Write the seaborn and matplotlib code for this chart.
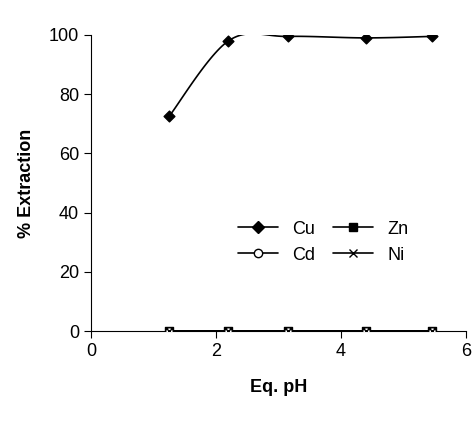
import numpy as np
import matplotlib
matplotlib.use("Agg")
import matplotlib.pyplot as plt
import seaborn as sns
import pandas as pd
from matplotlib.lines import Line2D

sns.set_style("ticks")
plt.rcParams['font.family'] = ['Liberation Sans', 'DejaVu Sans']
plt.rcParams['text.color'] = 'black'
plt.rcParams['axes.labelcolor'] = 'black'
plt.rcParams['xtick.color'] = 'black'
plt.rcParams['ytick.color'] = 'black'

ph = [1.25, 2.2, 3.15, 4.4, 5.45]
cu = [72.5, 98.0, 99.5, 99.0, 99.5]
zn = [0, 0, 0, 0, 0]
cd = [0, 0, 0, 0, 0]
ni = [0, 0, 0, 0, 0]

def smooth(x, y, n=30):
    x = np.asarray(x, float); y = np.asarray(y, float)
    P = np.column_stack([x, y])
    P = np.vstack([P[0], P, P[-1]])
    out = []
    for i in range(1, len(P) - 2):
        p0, p1, p2, p3 = P[i-1], P[i], P[i+1], P[i+2]
        t = np.linspace(0, 1, n)[:, None]
        c = 0.5 * ((2*p1) + (-p0 + p2)*t + (2*p0 - 5*p1 + 4*p2 - p3)*t**2 + (-p0 + 3*p1 - 3*p2 + p3)*t**3)
        out.append(c)
    return np.vstack(out)

fig = plt.figure(figsize=(4.74, 4.26), dpi=100)
ax = fig.add_axes([0.192, 0.223, 0.791, 0.695])

series = [("Cu", cu, "D", "black"), ("Zn", zn, "s", "black"),
          ("Cd", cd, "o", "white"), ("Ni", ni, "x", "black")]
for name, vals, m, fc in series:
    c = smooth(ph, vals)
    ax.plot(c[:, 0], c[:, 1], color="black", lw=1.2, zorder=2)
    df = pd.DataFrame({"x": ph, "y": vals})
    sns.scatterplot(data=df, x="x", y="y", marker=m, s=30, color=fc,
                    edgecolor="black", linewidth=1.0, ax=ax, zorder=3, legend=False)

order = [0, 2, 1, 3]
handles = [Line2D([], [], color="black", lw=1.2, marker=series[i][2], markersize=6,
                  markerfacecolor=series[i][3], markeredgecolor="black") for i in order]
ax.legend(handles, [series[i][0] for i in order], ncol=2, frameon=False, fontsize=13,
          loc="center", bbox_to_anchor=(0.62, 0.3), handlelength=2.2, columnspacing=1.0)

ax.set_xlim(0, 6)
ax.set_ylim(0, 100)
ax.set_xticks([0, 2, 4, 6])
ax.set_yticks([0, 20, 40, 60, 80, 100])
ax.tick_params(labelsize=13, direction="out", length=5, color="black")
ax.set_xlabel("Eq. pH", fontsize=13, fontweight="bold", labelpad=14)
ax.set_ylabel("% Extraction", fontsize=13, fontweight="bold", labelpad=10)
for s in ["left", "bottom"]:
    ax.spines[s].set_color("black")
sns.despine(ax=ax)
fig.savefig("out.png", dpi=100)
